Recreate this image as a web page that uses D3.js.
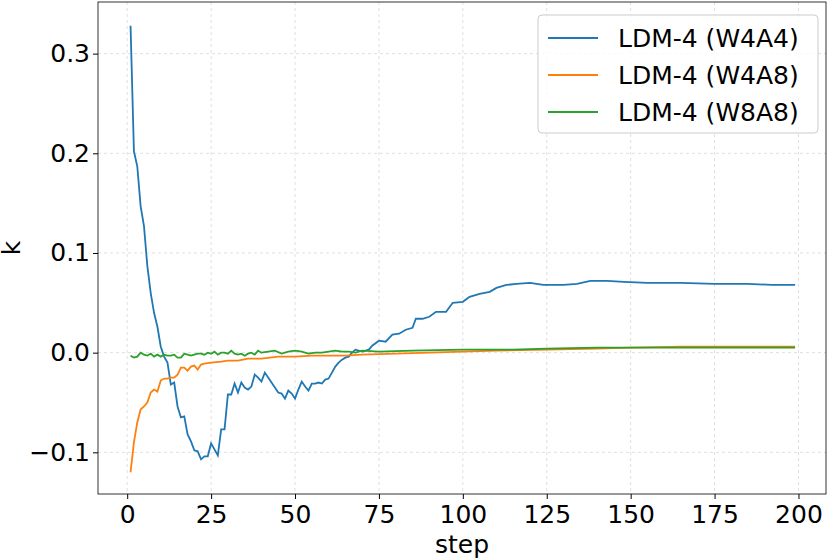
<!DOCTYPE html><html><head><meta charset="utf-8">
<script src="https://cdn.jsdelivr.net/npm/d3@7"></script>
<style>body{margin:0;background:#fff}text{font-family:"DejaVu Sans",sans-serif}</style></head><body>
<svg id="c" width="831" height="558"></svg>
<script>
const seriesNames = ["LDM-4 (W4A4)", "LDM-4 (W4A8)", "LDM-4 (W8A8)"];
const colors = ["#1f77b4", "#ff7f0e", "#2ca02c"];
const xTicks = [0,25,50,75,100,125,150,175,200];
const yTicks = [-0.1,0.0,0.1,0.2,0.3];
const w4a4Steps = [1,2,3,4,5,6,7,8,9,10,11,12,13,14,15,16,17,18,19,20,21,22,23,24,25,26,27,28,29,30,31,32,33,34,35,36,37,38,39,40,41,42,43,44,45,46,47,48,49,50,51,52,53,54,55,56,57,58,59,60,61,62,63,64,65,66,67,68,70,72,73,75,77,79,81,83,85,86,88,90,92,95,97,100,102,105,108,110,113,116,120,124,130,134,138,143,148,155,165,175,185,192,199];
const w4a4Vals = [0.328,0.202,0.187,0.147,0.127,0.087,0.060,0.040,0.026,0.006,-0.004,-0.010,-0.032,-0.030,-0.054,-0.065,-0.064,-0.082,-0.089,-0.098,-0.099,-0.107,-0.104,-0.104,-0.091,-0.097,-0.103,-0.077,-0.077,-0.042,-0.042,-0.031,-0.040,-0.030,-0.035,-0.037,-0.034,-0.022,-0.025,-0.029,-0.020,-0.025,-0.030,-0.035,-0.040,-0.041,-0.046,-0.038,-0.041,-0.046,-0.037,-0.029,-0.034,-0.038,-0.031,-0.031,-0.030,-0.031,-0.027,-0.026,-0.020,-0.014,-0.010,-0.007,-0.005,-0.004,0.000,0.003,0.001,0.003,0.007,0.012,0.011,0.018,0.019,0.023,0.025,0.034,0.034,0.036,0.041,0.041,0.050,0.051,0.056,0.059,0.061,0.065,0.068,0.069,0.070,0.068,0.068,0.069,0.072,0.072,0.071,0.070,0.070,0.069,0.069,0.068,0.068];
const w4a8Steps = [1,2,3,4,5,6,7,8,9,10,11,12,13,14,15,16,17,18,19,20,21,22,23,25,28,30,33,36,40,45,50,55,60,65,70,80,90,100,110,125,140,150,165,175,190,199];
const w4a8Vals = [-0.120,-0.090,-0.070,-0.057,-0.054,-0.050,-0.040,-0.037,-0.039,-0.028,-0.026,-0.026,-0.025,-0.025,-0.022,-0.015,-0.015,-0.018,-0.014,-0.013,-0.017,-0.012,-0.011,-0.010,-0.009,-0.008,-0.008,-0.006,-0.006,-0.004,-0.004,-0.003,-0.003,-0.003,-0.002,-0.001,0.000,0.001,0.002,0.003,0.004,0.005,0.006,0.006,0.006,0.006];
const w8a8Steps = [1,2,3,4,5,6,7,8,9,10,11,12,13,14,15,16,17,18,19,20,21,22,23,24,25,26,27,28,29,30,31,32,33,34,35,36,37,38,39,40,42,44,46,48,50,52,54,56,58,60,62,64,66,68,70,75,85,100,115,125,140,150,165,180,199];
const w8a8Vals = [-0.003,-0.005,-0.004,0.000,-0.002,-0.003,-0.001,-0.004,-0.002,-0.004,-0.002,-0.003,-0.003,-0.002,-0.005,-0.005,-0.001,-0.002,-0.003,-0.002,-0.001,-0.001,-0.002,0.000,-0.001,0.001,-0.002,0.000,0.000,-0.001,0.002,-0.001,-0.002,-0.001,-0.003,-0.001,0.000,-0.002,0.002,0.000,0.001,0.002,-0.001,0.001,0.002,0.001,-0.001,0.000,0.000,0.001,0.002,0.001,0.001,0.000,0.002,0.001,0.002,0.003,0.003,0.004,0.005,0.005,0.005,0.005,0.005];

const svg = d3.select("#c");
const L=98,R=826,T=2,B=494;
const x = d3.scaleLinear().domain([-8.7,208.2]).range([L,R]);
const y = d3.scaleLinear().domain([-0.1418,0.3518]).range([B,T]);
const g = svg.append("g");
g.selectAll(".gx").data(xTicks).join("line").attr("x1",d=>x(d)).attr("x2",d=>x(d)).attr("y1",T).attr("y2",B).attr("stroke","#b0b0b0").attr("stroke-opacity",0.5).attr("stroke-dasharray","3,3").attr("stroke-width",0.8);
g.selectAll(".gy").data(yTicks).join("line").attr("y1",d=>y(d)).attr("y2",d=>y(d)).attr("x1",L).attr("x2",R).attr("stroke","#b0b0b0").attr("stroke-opacity",0.5).attr("stroke-dasharray","3,3").attr("stroke-width",0.8);
const line = d3.line().x(d=>x(d[0])).y(d=>y(d[1]));
const data = [d3.zip(w4a4Steps,w4a4Vals), d3.zip(w4a8Steps,w4a8Vals), d3.zip(w8a8Steps,w8a8Vals)];
data.forEach((d,i)=>g.append("path").attr("d",line(d)).attr("fill","none").attr("stroke",colors[i]).attr("stroke-width",1.8));
svg.append("g").attr("transform",`translate(0,${B})`).call(d3.axisBottom(x).tickValues(xTicks).tickFormat(d3.format("d")).tickSize(5).tickSizeOuter(0))
  .call(a=>{a.select(".domain").remove();a.selectAll("text").attr("font-size",25).attr("fill","#000").attr("dy","0.85em");});
svg.append("g").attr("transform",`translate(${L},0)`).call(d3.axisLeft(y).tickValues(yTicks).tickFormat(d=>d<0?"\u2212"+Math.abs(d).toFixed(1):d.toFixed(1)).tickSize(5).tickSizeOuter(0))
  .call(a=>{a.select(".domain").remove();a.selectAll("text").attr("font-size",25).attr("fill","#000");});
svg.append("rect").attr("x",L).attr("y",T).attr("width",R-L).attr("height",B-T).attr("fill","none").attr("stroke","#000").attr("stroke-width",0.8);
svg.append("text").attr("x",(L+R)/2).attr("y",553).attr("text-anchor","middle").attr("font-size",25).text("step");
svg.append("text").attr("transform","translate(20,248) rotate(-90)").attr("text-anchor","middle").attr("font-size",25).text("k");
const lg = svg.append("g").attr("transform","translate(538,15)");
lg.append("rect").attr("width",280).attr("height",118).attr("rx",4).attr("fill","#fff").attr("fill-opacity",0.8).attr("stroke","#ccc");
seriesNames.forEach((n,i)=>{
  const yy=23+i*37;
  lg.append("line").attr("x1",10).attr("x2",60).attr("y1",yy).attr("y2",yy).attr("stroke",colors[i]).attr("stroke-width",1.8);
  lg.append("text").attr("x",80).attr("y",yy+9).attr("font-size",25).text(n);
});
</script></body></html>
